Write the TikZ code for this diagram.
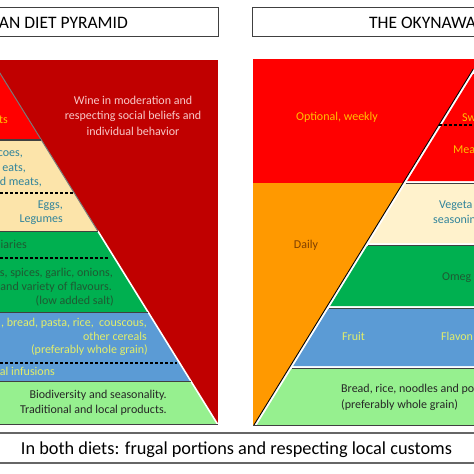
\documentclass[tikz,border=0pt]{standalone}
\usepackage{fontspec}
\setmainfont{Carlito}
\definecolor{wine}{HTML}{C00000}
\definecolor{tred}{HTML}{FF0000}
\definecolor{cream}{HTML}{FCE4AA}
\definecolor{creamR}{HTML}{FFF2CC}
\definecolor{tgreen}{HTML}{00B050}
\definecolor{tblue}{HTML}{5B9BD5}
\definecolor{lgreen}{HTML}{96F08F}
\definecolor{torange}{HTML}{FF9900}
\definecolor{gold}{HTML}{FFC000}
\definecolor{teal}{HTML}{31849B}
\definecolor{dgreen}{HTML}{1E5A32}
\definecolor{ylw}{HTML}{E2EE6A}
\definecolor{pink}{HTML}{F8C8C8}
\definecolor{brown}{HTML}{7F3F00}
\definecolor{frame}{HTML}{404040}
\begin{document}
\begin{tikzpicture}[x=1pt,y=-1pt,
  declare function={xl(\y)=-2+0.62*(\y-70); xr(\y)=403-0.616*(\y-183);},
  lbl/.style={inner sep=0pt, font=\fontsize{12}{15}\selectfont},
  ttl/.style={inner sep=0pt, font=\fontsize{17.5}{20}\selectfont, text=black},
  tierline/.style={draw=frame, line width=1.2pt},
  dashline/.style={draw=black, line width=1.1pt, dash pattern=on 3pt off 2pt},
  titlebox/.style={draw=frame, line width=1pt, fill=white}]
\useasboundingbox (0,0) rectangle (474,474);
\fill[white] (0,0) rectangle (474,474);

% ---------- titles ----------
\draw[titlebox] (-5,7) rectangle (218,36);
\node[ttl, anchor=base east] (tl) at (128,28) {AN DIET PYRAMID};
\draw[titlebox] (252,7) rectangle (480,36);
\node[ttl, anchor=base west] (tr) at (369,28) {THE OKYNAWA};

% ---------- left panel ----------
\fill[wine] (-5,60) rectangle (218,424);
\fill[tred] (-5,66) -- ({xl(66)},66) -- ({xl(139)},139) -- (-5,139) -- cycle;
\fill[cream] (-5,139) -- ({xl(139)},139) -- ({xl(231)},231) -- (-5,231) -- cycle;
\fill[tgreen] (-5,231) -- ({xl(231)},231) -- ({xl(312)},312) -- (-5,312) -- cycle;
\fill[tblue] (-5,312) -- ({xl(312)},312) -- ({xl(381)},381) -- (-5,381) -- cycle;
\fill[lgreen] (-5,381) -- ({xl(381)},381) -- ({xl(424)},424) -- (-5,424) -- cycle;
\draw[white, line width=1.6pt] ({xl(231)},231) -- ({xl(424)},424);
\draw[frame!70, line width=1pt] ({xl(66)},66) -- ({xl(231)},231);
\draw[tierline] (-5,140) -- ({xl(140)},140);
\draw[tierline] (-5,231.5) -- ({xl(231.5)},231.5);
\draw[tierline] (-5,312.5) -- ({xl(312.5)},312.5);
\draw[tierline] (-5,381.5) -- ({xl(381.5)},381.5);
\draw[tierline] (-5,424.5) -- (218,424.5);
\draw[dashline] (0,193) -- ({xl(193)-1},193);
\draw[dashline] (0,258) -- ({xl(258)-6},258);
\draw[dashline] (0,363) -- ({xl(363)-3},363);

\node[lbl, text=gold, anchor=base east] (l1) at (8,123) {ts};
\node[lbl, text=teal, anchor=base east] (l2a) at (23,156) {coes,};
\node[lbl, text=teal, anchor=base east] (l2b) at (26,171) {eats,};
\node[lbl, text=teal, anchor=base east] (l2c) at (42,185) {d meats,};
\node[lbl, text=teal, anchor=base east] (l2d) at (63,208) {Eggs,};
\node[lbl, text=teal, anchor=base east] (l2e) at (63,222) {Legumes};
\node[lbl, text=dgreen, anchor=base east] (l3a) at (27,248) {iaries};
\node[lbl, text=dgreen, anchor=base east] (l3b) at (113,276) {s, spices, garlic, onions,};
\node[lbl, text=dgreen, anchor=base east] (l3c) at (112,290) {and variety of flavours.};
\node[lbl, text=dgreen, anchor=base east] (l3d) at (114,304) {(low added salt)};
\node[lbl, text=ylw, anchor=base east] (l4a) at (147,326) {, bread, pasta, rice,\ \ couscous,};
\node[lbl, text=ylw, anchor=base east] (l4b) at (147,340) {other cereals};
\node[lbl, text=ylw, anchor=base east] (l4c) at (148,353) {(preferably whole grain)};
\node[lbl, text=ylw, anchor=base east] (l4d) at (55,375) {al infusions};
\node[lbl, text=black!85, anchor=base east] (l5a) at (167,398) {Biodiversity and seasonality.};
\node[lbl, text=black!85, anchor=base east] (l5b) at (167,413) {Traditional and local products.};
\node[lbl, text=pink, anchor=base] (w1) at (133,104) {Wine in moderation and};
\node[lbl, text=pink, anchor=base] (w2) at (133,119) {respecting social beliefs and};
\node[lbl, text=pink, anchor=base] (w3) at (133,135) {individual behavior};

% ---------- right panel ----------
\fill[tred] (253,59) rectangle (480,183);
\fill[torange] (253,183) rectangle (480,425);
\fill[white] ({xr(69)},69) -- (480,69) -- (480,426) -- ({xr(426)},426) -- cycle;
\fill[tred] ({xr(74)+3},74) -- (480,74) -- (480,181) -- ({xr(181)+3},181) -- cycle;
\fill[creamR] ({xr(184)+3},184) -- (480,184) -- (480,243) -- ({xr(243)+3},243) -- cycle;
\fill[tgreen] ({xr(246)+3},246) -- (480,246) -- (480,306) -- ({xr(306)+3},306) -- cycle;
\fill[tblue] ({xr(309)+3},309) -- (480,309) -- (480,366) -- ({xr(366)+3},366) -- cycle;
\fill[lgreen] ({xr(369)+3},369) -- (480,369) -- (480,425) -- ({xr(425)+3},425) -- cycle;
\draw[black, line width=0.9pt] ({xr(69)},69) -- ({xr(425)},425);
\draw[tierline] ({xr(183.5)+3},183.5) -- (480,183.5);
\draw[tierline] ({xr(245.5)+3},245.5) -- (480,245.5);
\draw[tierline] ({xr(308.5)+3},308.5) -- (480,308.5);
\draw[tierline] ({xr(368.5)+3},368.5) -- (480,368.5);
\draw[tierline] (253,425.5) -- (480,425.5);
\draw[dashline] (439,125) -- (480,125);

\node[lbl, text=gold, anchor=base] (r0) at (337,120) {Optional, weekly};
\node[lbl, text=brown, anchor=base] (r00) at (306,248) {Daily};
\node[lbl, text=gold, anchor=base west] (r1a) at (462,121) {Sw};
\node[lbl, text=gold, anchor=base west] (r1b) at (453,153) {Mea};
\node[lbl, text=teal, anchor=base west] (r2a) at (439,208) {Vegeta};
\node[lbl, text=teal, anchor=base west] (r2b) at (433,223) {seasonin};
\node[lbl, text=dgreen, anchor=base west] (r3) at (442,280) {Omeg};
\node[lbl, text=ylw, anchor=base west] (r4a) at (342,340) {Fruit};
\node[lbl, text=ylw, anchor=base west] (r4b) at (441,340) {Flavon};
\node[lbl, text=black!85, anchor=base west] (r5a) at (341,392) {Bread, rice, noodles and po};
\node[lbl, text=black!85, anchor=base west] (r5b) at (341,408) {(preferably whole grain)};

% ---------- bottom banner ----------
\draw[draw=frame!80, line width=1.5pt, fill=white] (-5,433) rectangle (480,463);
\node[inner sep=0pt, font=\fontsize{18.3}{22}\selectfont, anchor=base] (bot) at (236.5,454) {In both diets: frugal portions and respecting local customs};
\end{tikzpicture}
\end{document}
